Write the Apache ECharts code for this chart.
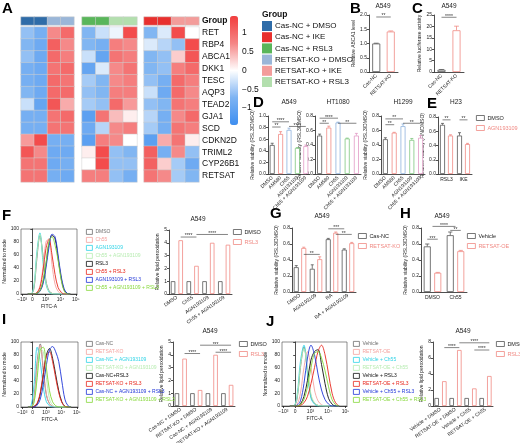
<!DOCTYPE html>
<html>
<head>
<meta charset="utf-8">
<title>RETSAT figure</title>
<script src="https://cdn.jsdelivr.net/npm/echarts@6/dist/echarts.min.js"></script>
<style>
    html, body { margin: 0; padding: 0; background: #fff; }
    #fig { width: 520px; height: 443px; }
</style>
</head>
<body>
<div id="fig"></div>
<script>

// Data
// ------------------------------

// A - heatmap (z-scores, rows = genes, 4 columns per block)
var genes = ['RET', 'RBP4', 'ABCA1', 'DKK1', 'TESC', 'AQP3', 'TEAD2', 'GJA1', 'SCD', 'CDKN2D', 'TRIML2', 'CYP26B1', 'RETSAT'];
var heatBlock1 = [
    [-0.6, -0.8, 0.7, 1.0], [-0.7, -0.9, 1.1, 0.7], [-0.6, -0.9, 1.0, 0.8], [-0.8, -0.9, 0.9, 1.0],
    [-0.8, -0.9, 1.0, 0.9], [-0.7, -0.9, 1.0, 1.0], [-0.3, -1.0, 1.2, 0.5], [-0.8, -0.8, 0.9, 1.0],
    [-0.8, -0.8, 0.9, 0.9], [0.6, 1.3, -0.8, -0.8], [1.2, 0.7, -0.9, -0.9], [0.9, 0.9, -0.9, -0.8],
    [0.9, 0.9, -0.8, -0.9]
];
var heatBlock2 = [
    [-0.7, -0.3, -0.1, 1.3], [-0.7, -0.8, 0.8, 0.7], [-0.3, -1.0, 0.9, 0.8], [-1.0, -0.2, 0.7, 0.9],
    [-0.5, -0.7, 0.7, 0.8], [-0.6, -0.7, 0.8, 0.8], [-0.5, -0.6, 1.0, 0.6], [-1.1, 0.9, 0.4, 0.1],
    [-0.9, -0.4, 0.7, 0.8], [-1.1, 0.8, 0.7, 0.0], [0.1, 1.3, -0.6, -0.7], [0.0, 1.3, -0.6, -0.6],
    [0.8, 0.8, -0.6, -0.8]
];
var heatBlock3 = [
    [-0.7, -0.2, 1.3, 0.0], [-0.2, -0.4, -0.6, 1.3], [-0.7, -0.6, 0.3, 1.2], [-0.7, -0.6, 0.8, 1.0],
    [-0.6, -0.8, 1.0, 0.8], [-0.3, -0.9, 1.0, 0.7], [-0.6, -0.7, 0.9, 0.8], [-0.4, -0.8, 0.7, 1.0],
    [-0.5, -0.8, 0.9, 0.8], [-1.1, 0.5, 0.9, 0.1], [1.1, -0.8, 0.7, -0.6], [1.1, 0.3, -0.5, -0.9],
    [0.9, 0.7, -0.5, -0.7]
];
var groupNames = ['Cas-NC + DMSO', 'Cas-NC + IKE', 'Cas-NC + RSL3', 'RETSAT-KO + DMSO', 'RETSAT-KO + IKE', 'RETSAT-KO + RSL3'];
var groupBlock1 = [0, 0, 3, 3];
var groupBlock2 = [2, 2, 5, 5];
var groupBlock3 = [1, 1, 4, 4];
var colorbarTicks = [-1, -0.5, 0, 0.5, 1];

// B, C
var bcCats = ['Cas-NC', 'RETSAT-KO'];
var bValues = [1.0, 1.42];
var bErrors = [0.01, 0.02];
var bSig = [[0, 0, 1, 0, 1.93, '**']];
var cValues = [1.0, 18.3];
var cErrors = [0.1, 1.8];
var cSig = [[0, 0, 1, 0, 24, '****']];

// D
var dCats = ['DMSO', 'AM580', 'Ch55', 'AGN193109', 'Ch55 + AGN193109'];
var dA549 = [0.50, 0.69, 0.76, 0.45, 0.48];
var dA549Err = [0.03, 0.04, 0.03, 0.005, 0.02];
var dA549Sig = [[0, 0, 2, 0, 0.90, '****'], [0, 0, 1, 0, 0.81, '**'], [2, 0, 4, 0, 0.82, '****']];
var dHT1080 = [0.53, 0.64, 0.71, 0.49, 0.53];
var dHT1080Err = [0.02, 0.02, 0.005, 0.005, 0.03];
var dHT1080Sig = [[0, 0, 2, 0, 0.77, '****'], [0, 0, 1, 0, 0.70, '**'], [2, 0, 4, 0, 0.70, '**']];
var dH1299 = [0.48, 0.57, 0.66, 0.47, 0.50];
var dH1299Err = [0.02, 0.005, 0.03, 0.02, 0.03];
var dH1299Sig = [[0, 0, 2, 0, 0.76, '**'], [0, 0, 1, 0, 0.68, '**'], [2, 0, 4, 0, 0.70, '**']];

// E
var eCats = ['RSL3', 'IKE'];
var eDMSO = [0.69, 0.54];
var eDMSOErr = [0.02, 0.04];
var eAGN = [0.54, 0.42];
var eAGNErr = [0.01, 0.01];
var eSig = [[0, -1, 0, 1, 0.76, '**'], [1, -1, 1, 1, 0.76, '**']];

// F, I, J - flow cytometry histograms (shared FITC-A grid, % of mode)
var flowU = [-0.3, -0.1, 0.1, 0.3, 0.5, 0.7, 0.9, 1.1, 1.3, 1.5, 1.7, 1.9, 2.1, 2.3, 2.5];
var flowTickValues = [-0.67, 0, 0.87, 1.87, 2.87];
var flowTickLabels = ['\u221210\u00b3', '0', '10\u00b3', '10\u2074', '10\u2075'];

var fFlowNames = ['DMSO', 'Ch55', 'AGN193109', 'Ch55 + AGN193109', 'RSL3', 'Ch55 + RSL3', 'AGN193109 + RSL3', 'Ch55 + AGN193109 + RSL3'];
var fFlow = [
    [0, 0, 8, 55, 90, 60, 20, 5, 1, 0, 0, 0, 0, 0, 0],
    [0, 0, 0, 2, 12, 40, 80, 85, 45, 15, 4, 1, 0, 0, 0],
    [0, 0, 12, 65, 94, 50, 15, 3, 0, 0, 0, 0, 0, 0, 0],
    [0, 0, 10, 60, 92, 55, 18, 4, 1, 0, 0, 0, 0, 0, 0],
    [0, 0, 0, 1, 5, 18, 45, 78, 90, 85, 55, 25, 6, 1, 0],
    [0, 0, 0, 2, 10, 35, 70, 84, 60, 30, 10, 3, 0, 0, 0],
    [0, 0, 0, 1, 4, 15, 40, 72, 92, 88, 60, 28, 8, 1, 0],
    [0, 0, 0, 1, 5, 20, 48, 80, 88, 75, 52, 22, 5, 0, 0]
];
var iFlowNames = ['Cas-NC', 'RETSAT-KO', 'Cas-NC + AGN193109', 'RETSAT-KO + AGN193109', 'Cas-NC+RSL3', 'RETSAT-KO + RSL3', 'Cas-NC + AGN193109 + RSL3', 'RETSAT-KO + AGN193109 + RSL3'];
var iFlow = [
    [0, 0, 15, 70, 97, 55, 18, 5, 1, 0, 0, 0, 0, 0, 0],
    [0, 0, 12, 65, 95, 60, 20, 5, 1, 0, 0, 0, 0, 0, 0],
    [0, 2, 35, 92, 70, 30, 8, 2, 0, 0, 0, 0, 0, 0, 0],
    [0, 0, 8, 50, 90, 85, 45, 12, 3, 0, 0, 0, 0, 0, 0],
    [0, 0, 1, 5, 20, 50, 80, 90, 75, 50, 25, 8, 1, 0, 0],
    [0, 0, 1, 6, 22, 52, 78, 85, 70, 45, 22, 7, 1, 0, 0],
    [0, 0, 0, 3, 12, 35, 65, 88, 93, 85, 70, 40, 12, 2, 0],
    [0, 0, 8, 45, 88, 92, 60, 25, 8, 2, 0, 0, 0, 0, 0]
];
var jFlowNames = ['Vehicle', 'RETSAT-OE', 'Vehicle + Ch55', 'RETSAT-OE + Ch55', 'Vehicle + RSL3', 'RETSAT-OE + RSL3', 'Vehicle + Ch55 + RSL3', 'RETSAT-OE + Ch55 + RSL3'];
var jFlow = [
    [0, 0, 10, 60, 92, 55, 15, 4, 1, 0, 0, 0, 0, 0, 0],
    [0, 0, 2, 20, 60, 85, 60, 25, 8, 2, 0, 0, 0, 0, 0],
    [0, 0, 15, 70, 95, 50, 12, 3, 0, 0, 0, 0, 0, 0, 0],
    [0, 0, 12, 62, 90, 58, 18, 5, 1, 0, 0, 0, 0, 0, 0],
    [0, 0, 0, 3, 15, 40, 72, 85, 88, 65, 35, 12, 3, 0, 0],
    [0, 0, 0, 1, 5, 15, 35, 60, 85, 95, 80, 50, 20, 5, 0],
    [0, 0, 1, 8, 35, 75, 95, 80, 50, 25, 10, 3, 0, 0, 0],
    [0, 0, 0, 2, 10, 30, 60, 82, 85, 75, 55, 30, 10, 2, 0]
];

// F, I, J - lipid peroxidation bars
var fCats = ['DMSO', 'Ch55', 'AGN193109', 'Ch55 + AGN193109'];
var fDMSO = [1, 1, 1, 1];
var fRSL3 = [4.2, 2.2, 4.0, 3.85];
var fSig = [[0, 1, 1, 1, 4.45, '****'], [1, 1, 3, 1, 4.65, '****']];
var iCats = ['Cas-NC + DMSO', 'RETSAT-KO + DMSO', 'Cas-NC + AGN193109', 'RETSAT-KO + AGN193109'];
var iDMSO = [1, 1, 1, 1];
var iRSL3 = [3.7, 1.25, 4.0, 1.65];
var iSig = [[0, 1, 1, 1, 4.1, '****'], [1, 1, 3, 1, 4.75, '***'], [2, 1, 3, 1, 4.2, '****']];
var jCats = ['Vehicle + DMSO', 'RETSAT-OE + DMSO', 'Vehicle + Ch55', 'RETSAT-OE + Ch55'];
var jDMSO = [1, 1, 1, 1];
var jRSL3 = [3.1, 7.0, 2.2, 3.75];
var jSig = [[0, 1, 1, 1, 7.3, '****'], [1, 1, 3, 1, 7.9, '****'], [2, 1, 3, 1, 7.0, '****']];

// G, H
var gCats = ['DMSO', 'AGN193109', 'RA', 'RA + AGN193109'];
var gCasNC = [0.31, 0.29, 0.66, 0.53];
var gCasNCErr = [0.02, 0.05, 0.01, 0.01];
var gKO = [0.55, 0.41, 0.74, 0.61];
var gKOErr = [0.01, 0.03, 0.01, 0.01];
var gSig = [[0, 1, 1, 1, 0.47, '**'], [2, -1, 3, -1, 0.79, '***'], [2, 1, 3, 1, 0.72, '**']];
var hCats = ['DMSO', 'Ch55'];
var hVehicle = [0.57, 0.71];
var hVehicleErr = [0.03, 0.04];
var hOE = [0.24, 0.51];
var hOEErr = [0.005, 0.01];
var hSig = [[0, -1, 0, 1, 0.66, '***'], [0, 0, 1, 0, 0.82, '****'], [1, -1, 1, 1, 0.77, '**']];


// Styles
// ------------------------------

var FONT = '"Liberation Sans", Arial, sans-serif';
var INK = '#222';
var GREY = '#555555';
var SALMON = '#f08a84';
var dColors = [GREY, SALMON, '#8fb3dd', '#7fc77f', '#e29ac6'];
var groupColors = ['#2f6ca8', '#e8302e', '#59b65a', '#9ab6d8', '#f39c9a', '#b3dfae'];
var flowColors = ['#6e6e6e', '#f4a3a0', '#2fd3e6', '#b8ecb2', '#111111', '#e8281e', '#1f35d8', '#86d83a'];


// Option builders
// ------------------------------

var grids = [], xAxes = [], yAxes = [], series = [], legends = [], graphics = [];

function addGrid(pos) {
    pos.outerBoundsMode = 'none';
    grids.push(pos);
    return grids.length - 1;
}

function addText(text, x, y, size, bold, color) {
    graphics.push({
        type: 'text', x: x, y: y, silent: true,
        style: {
            text: text, fontSize: size, fontWeight: bold ? 'bold' : 'normal', fontFamily: FONT,
            fill: color || '#000', align: bold ? 'left' : 'center', verticalAlign: 'top'
        }
    });
}

function valueAxis(gi, o) {
    return {
        gridIndex: gi, type: 'value', min: o.min || 0, max: o.max, interval: o.step,
        name: o.name, nameLocation: 'middle', nameGap: o.nameGap || 12,
        nameTextStyle: {fontSize: 5, color: INK, fontFamily: FONT},
        axisLine: {show: true, lineStyle: {color: INK, width: 0.8}},
        axisTick: {show: true, length: 2, lineStyle: {color: INK, width: 0.8}},
        axisLabel: {fontSize: 5, margin: 2, color: INK, formatter: o.fmt},
        splitLine: {show: false}
    };
}

function fixed1(v) { return v.toFixed(1); }

// Significance brackets: [cat1, slot1, cat2, slot2, y, stars]
function addSig(xi, yi, list, off) {
    series.push({
        type: 'custom', xAxisIndex: xi, yAxisIndex: yi, silent: true, z: 4,
        encode: {x: 0, y: 4},
        data: list.map(function (s) { return s.slice(0, 5); }),
        renderItem: function (params, api) {
            var a = api.coord([api.value(0), api.value(4)]);
            var b = api.coord([api.value(2), api.value(4)]);
            var x1 = a[0] + api.value(1) * off;
            var x2 = b[0] + api.value(3) * off;
            return {
                type: 'group',
                children: [
                    {type: 'line', shape: {x1: x1, y1: a[1], x2: x2, y2: a[1]}, style: {stroke: '#333', lineWidth: 0.6}},
                    {type: 'text', x: (x1 + x2) / 2, y: a[1] + 1.5,
                        style: {text: list[params.dataIndex][5], fontSize: 5, fill: '#333', fontFamily: FONT, align: 'center', verticalAlign: 'bottom'}}
                ]
            };
        }
    });
}

function barPanel(p) {
    var gi = addGrid(p.pos);
    var xi = xAxes.length, yi = yAxes.length;
    var gap = p.gap || 0;
    xAxes.push({
        gridIndex: gi, type: 'category', data: p.cats,
        axisLine: {lineStyle: {color: INK, width: 0.8}},
        axisTick: {length: 2, alignWithLabel: true, lineStyle: {color: INK, width: 0.8}},
        axisLabel: {fontSize: 5, rotate: p.rotate || 0, margin: 3, interval: 0, color: INK}
    });
    yAxes.push(valueAxis(gi, p.y));

    var two = p.groups.length === 2;
    var off = two ? p.barWidth * (1 + gap) / 2 : 0;

    p.groups.forEach(function (g, k) {
        var slot = two ? (k === 0 ? -1 : 1) : 0;
        var colorOf = function (i) { return g.colors ? g.colors[i] : g.color; };
        series.push({
            type: 'bar', name: g.name, xAxisIndex: xi, yAxisIndex: yi, silent: true,
            barWidth: p.barWidth, barGap: Math.round(gap * 100) + '%',
            data: g.values.map(function (v, i) {
                return {value: v, itemStyle: {color: '#fff', borderColor: colorOf(i), borderWidth: 0.8}};
            })
        });
        if (g.errs) {
            series.push({
                type: 'custom', xAxisIndex: xi, yAxisIndex: yi, silent: true, z: 3,
                encode: {x: 0, y: 1},
                data: g.values.map(function (v, i) { return [i, v, g.errs[i]]; }),
                renderItem: function (params, api) {
                    var base = api.coord([api.value(0), api.value(1)]);
                    var top = api.coord([api.value(0), api.value(1) + api.value(2)]);
                    var x = base[0] + slot * off;
                    var c = colorOf(params.dataIndex);
                    var cap = p.barWidth * 0.3;
                    return {
                        type: 'group',
                        children: [
                            {type: 'line', shape: {x1: x, y1: base[1], x2: x, y2: top[1]}, style: {stroke: c, lineWidth: 0.8}},
                            {type: 'line', shape: {x1: x - cap, y1: top[1], x2: x + cap, y2: top[1]}, style: {stroke: c, lineWidth: 0.8}}
                        ]
                    };
                }
            });
        }
    });
    if (p.sig) {
        addSig(xi, yi, p.sig, off);
    }
}

function barLegend(left, top, items) {
    legends.push({
        left: left, top: top, orient: 'vertical', padding: 0, icon: 'rect',
        itemWidth: 8, itemHeight: 5, itemGap: 4, selectedMode: false,
        textStyle: {fontSize: 5.5, fontFamily: FONT, padding: [0, 0, 0, -2]},
        data: items.map(function (it) {
            return {name: it[0], itemStyle: {color: '#fff', borderColor: it[1], borderWidth: 0.8}, textStyle: {color: it[2]}};
        })
    });
}

function flowPanel(pos, names, curves, legendPos) {
    var gi = addGrid(Object.assign({show: true, borderColor: '#444', borderWidth: 0.6}, pos));
    var xi = xAxes.length, yi = yAxes.length;
    xAxes.push({
        gridIndex: gi, type: 'value', min: -0.75, max: 2.95,
        name: 'FITC-A', nameLocation: 'middle', nameGap: 10,
        nameTextStyle: {fontSize: 5, color: INK},
        axisLine: {lineStyle: {color: INK, width: 0.8}},
        axisTick: {show: true, length: 2, customValues: flowTickValues, lineStyle: {color: INK, width: 0.8}},
        axisLabel: {
            fontSize: 5, margin: 3, color: INK, customValues: flowTickValues,
            formatter: function (v) {
                var k = flowTickValues.indexOf(v);
                return k >= 0 ? flowTickLabels[k] : '';
            }
        },
        splitLine: {show: false}
    });
    yAxes.push(valueAxis(gi, {max: 100, step: 20, name: 'Normalized to mode', nameGap: 11}));
    curves.forEach(function (vals, k) {
        series.push({
            type: 'line', name: names[k], xAxisIndex: xi, yAxisIndex: yi, silent: true,
            smooth: 0.35, symbol: 'none', z: 2 + k * 0.1,
            lineStyle: {color: flowColors[k], width: 0.9},
            itemStyle: {color: flowColors[k]},
            data: flowU.map(function (u, i) { return [u, vals[i]]; })
        });
    });
    legends.push({
        left: legendPos[0], top: legendPos[1], orient: 'vertical', padding: 0, icon: 'rect',
        itemWidth: 6, itemHeight: 5, itemGap: 2.2, selectedMode: false,
        textStyle: {fontSize: 5, fontFamily: FONT, padding: [0, 0, 0, -2]},
        data: names.map(function (n, k) {
            return {name: n, itemStyle: {color: '#fff', borderColor: flowColors[k], borderWidth: 0.8}, textStyle: {color: flowColors[k]}};
        })
    });
}


// A - heatmap
// ------------------------------

var heatSeries = [], groupSeries = [];

function heatBlock(block, groups, left, width, last) {
    var gi = addGrid({left: left, top: 17, width: width, height: 8});
    xAxes.push({gridIndex: gi, type: 'category', data: ['1', '2', '3', '4'], show: false});
    yAxes.push({
        gridIndex: gi, type: 'category', data: ['Group'], position: 'right',
        axisLine: {show: false}, axisTick: {show: false},
        axisLabel: {show: last, fontSize: 8.5, fontWeight: 'bold', color: '#111', margin: 3}
    });
    groupSeries.push(series.length);
    series.push({
        type: 'heatmap', xAxisIndex: xAxes.length - 1, yAxisIndex: yAxes.length - 1, silent: true,
        itemStyle: {borderColor: '#cfcfcf', borderWidth: 0.5},
        data: groups.map(function (g, c) { return [c, 0, g]; })
    });

    gi = addGrid({left: left, top: 27, width: width, height: 155});
    xAxes.push({gridIndex: gi, type: 'category', data: ['1', '2', '3', '4'], show: false});
    yAxes.push({
        gridIndex: gi, type: 'category', data: genes, inverse: true, position: 'right',
        axisLine: {show: false}, axisTick: {show: false},
        axisLabel: {show: last, fontSize: 8.5, color: '#111', margin: 3}
    });
    var data = [];
    block.forEach(function (row, r) {
        row.forEach(function (v, c) { data.push([c, r, v]); });
    });
    heatSeries.push(series.length);
    series.push({
        type: 'heatmap', xAxisIndex: xAxes.length - 1, yAxisIndex: yAxes.length - 1, silent: true,
        itemStyle: {borderColor: '#cfcfcf', borderWidth: 0.5},
        data: data
    });
}

heatBlock(heatBlock1, groupBlock1, 21, 53, false);
heatBlock(heatBlock2, groupBlock2, 82, 55, false);
heatBlock(heatBlock3, groupBlock3, 144, 55, true);

// colour bar tick labels
(function () {
    var gi = addGrid({left: 230, top: 16, width: 8, height: 109});
    xAxes.push({gridIndex: gi, type: 'value', min: 0, max: 1, show: false});
    yAxes.push({
        gridIndex: gi, type: 'value', min: -1.45, max: 1.45, position: 'right',
        axisLine: {show: false}, axisTick: {show: false}, splitLine: {show: false},
        axisLabel: {
            fontSize: 8.5, color: '#111', margin: 4, customValues: colorbarTicks,
            formatter: function (v) { return String(v).replace('-', '\u2212'); }
        }
    });
})();


// B - E
// ------------------------------

barPanel({
    pos: {left: 369, top: 15, width: 29, height: 57}, cats: bcCats, rotate: 45, barWidth: 8,
    y: {max: 2, step: 0.5, fmt: fixed1, name: 'Relative ABCA1 level', nameGap: 11},
    groups: [{name: 'B', values: bValues, errs: bErrors, colors: [GREY, SALMON]}], sig: bSig
});
barPanel({
    pos: {left: 434, top: 15, width: 30, height: 57}, cats: bcCats, rotate: 45, barWidth: 8,
    y: {max: 25, step: 5, name: 'Relative luciferase activity', nameGap: 9},
    groups: [{name: 'C', values: cValues, errs: cErrors, colors: [GREY, SALMON]}], sig: cSig
});
barPanel({
    pos: {left: 268, top: 116, width: 42, height: 58}, cats: dCats, rotate: 45, barWidth: 5,
    y: {max: 1, step: 0.2, fmt: fixed1, name: 'Relative viability (RSL3/DMSO)', nameGap: 11},
    groups: [{name: 'D1', values: dA549, errs: dA549Err, colors: dColors}], sig: dA549Sig
});
barPanel({
    pos: {left: 315, top: 116, width: 46, height: 58}, cats: dCats, rotate: 45, barWidth: 5,
    y: {max: 0.8, step: 0.2, fmt: fixed1, name: 'Relative viability (RSL3/DMSO)', nameGap: 11},
    groups: [{name: 'D2', values: dHT1080, errs: dHT1080Err, colors: dColors}], sig: dHT1080Sig
});
barPanel({
    pos: {left: 381, top: 116, width: 44, height: 58}, cats: dCats, rotate: 45, barWidth: 5,
    y: {max: 0.8, step: 0.2, fmt: fixed1, name: 'Relative viability (RSL3/DMSO)', nameGap: 11},
    groups: [{name: 'D3', values: dH1299, errs: dH1299Err, colors: dColors}], sig: dH1299Sig
});
barPanel({
    pos: {left: 438, top: 117, width: 34, height: 57}, cats: eCats, barWidth: 5, gap: 0.6,
    y: {max: 0.8, step: 0.2, fmt: fixed1, name: 'Relative viability (FIN/DMSO)', nameGap: 11},
    groups: [
        {name: 'DMSO', values: eDMSO, errs: eDMSOErr, color: GREY},
        {name: 'AGN193109', values: eAGN, errs: eAGNErr, color: SALMON}
    ],
    sig: eSig
});
barLegend(476, 115, [['DMSO', GREY, INK], ['AGN193109', SALMON, SALMON]]);


// F - J
// ------------------------------

flowPanel({left: 21, top: 229, width: 56, height: 65}, fFlowNames, fFlow, [86, 229]);
barPanel({
    pos: {left: 169, top: 230, width: 63, height: 64}, cats: fCats, rotate: 35, barWidth: 4.5, gap: 0.7,
    y: {max: 5, step: 1, name: 'Relative lipid peroxidation', nameGap: 8},
    groups: [
        {name: 'DMSO', values: fDMSO, color: GREY},
        {name: 'RSL3', values: fRSL3, color: SALMON}
    ],
    sig: fSig
});
barLegend(233, 229, [['DMSO', GREY, INK], ['RSL3', SALMON, SALMON]]);

barPanel({
    pos: {left: 292, top: 228, width: 64, height: 64}, cats: gCats, rotate: 35, barWidth: 5, gap: 0.5,
    y: {max: 0.8, step: 0.2, fmt: fixed1, name: 'Relative viability (RSL3/DMSO)', nameGap: 11},
    groups: [
        {name: 'Cas-NC', values: gCasNC, errs: gCasNCErr, color: GREY},
        {name: 'RETSAT-KO', values: gKO, errs: gKOErr, color: SALMON}
    ],
    sig: gSig
});
barLegend(358, 233, [['Cas-NC', GREY, INK], ['RETSAT-KO', SALMON, SALMON]]);

barPanel({
    pos: {left: 421, top: 228, width: 46, height: 64}, cats: hCats, barWidth: 7, gap: 0.5,
    y: {max: 0.8, step: 0.2, fmt: fixed1, name: 'Relative viability (RSL3/DMSO)', nameGap: 11},
    groups: [
        {name: 'Vehicle', values: hVehicle, errs: hVehicleErr, color: GREY},
        {name: 'RETSAT-OE', values: hOE, errs: hOEErr, color: SALMON}
    ],
    sig: hSig
});
barLegend(467, 233, [['Vehicle', GREY, INK], ['RETSAT-OE', SALMON, SALMON]]);

flowPanel({left: 21, top: 342, width: 57, height: 65}, iFlowNames, iFlow, [86, 341]);
barPanel({
    pos: {left: 173, top: 342, width: 62, height: 64}, cats: iCats, rotate: 35, barWidth: 4.5, gap: 0.7,
    y: {max: 5, step: 1, name: 'Relative lipid peroxidation', nameGap: 8},
    groups: [
        {name: 'DMSO', values: iDMSO, color: GREY},
        {name: 'RSL3', values: iRSL3, color: SALMON}
    ],
    sig: iSig
});
barLegend(239, 341, [['DMSO', GREY, INK], ['RSL3', SALMON, SALMON]]);

flowPanel({left: 282, top: 342, width: 65, height: 64}, jFlowNames, jFlow, [353, 341]);
barPanel({
    pos: {left: 433, top: 342, width: 60, height: 64}, cats: jCats, rotate: 35, barWidth: 4.5, gap: 0.7,
    y: {max: 8, step: 2, name: 'Relative lipid peroxidation', nameGap: 8},
    groups: [
        {name: 'DMSO', values: jDMSO, color: GREY},
        {name: 'RSL3', values: jRSL3, color: SALMON}
    ],
    sig: jSig
});
barLegend(496, 341, [['DMSO', GREY, INK], ['RSL3', SALMON, SALMON]]);


// Panel letters and titles
// ------------------------------

[['A', 2, 1], ['B', 350, 1], ['C', 412, 1], ['D', 253, 95], ['E', 427, 96], ['F', 2, 208],
 ['G', 270, 206], ['H', 400, 206], ['I', 2, 312], ['J', 266, 314]].forEach(function (l) {
    addText(l[0], l[1], l[2], 15, true);
});
addText('Group', 262, 10, 8.5, true, '#111');

[['A549', 383, 3], ['A549', 449, 3], ['A549', 289, 99], ['HT1080', 338, 99], ['H1299', 403, 99],
 ['H23', 456, 99], ['A549', 198, 216], ['A549', 322, 213], ['A549', 442, 213], ['A549', 210, 328],
 ['A549', 463, 328]].forEach(function (t) {
    addText(t[0], t[1], t[2], 6.5, false, INK);
});


// Chart
// ------------------------------

var fig = echarts.init(document.getElementById('fig'), null, {renderer: 'canvas'});
fig.setOption({
    animation: false,
    textStyle: {fontFamily: FONT},
    grid: grids,
    xAxis: xAxes,
    yAxis: yAxes,
    legend: legends,
    visualMap: [
        {
            type: 'continuous', seriesIndex: heatSeries, min: -1.45, max: 1.45,
            left: 230, top: 16, itemWidth: 8, itemHeight: 109, padding: 0,
            calculable: false, hoverLink: false,
            inRange: {color: ['#3d8ef0', '#7db3f2', '#ffffff', '#f58585', '#f23d3d']}
        },
        {
            type: 'piecewise', seriesIndex: groupSeries, inverse: true, align: 'left',
            left: 262, top: 21, padding: 0, itemWidth: 10, itemHeight: 10, itemGap: 1.2, itemSymbol: 'rect',
            selectedMode: false, textGap: 3,
            textStyle: {fontSize: 8, color: '#111', fontFamily: FONT},
            pieces: groupNames.map(function (n, k) { return {value: k, label: n, color: groupColors[k]}; })
        }
    ],
    graphic: graphics,
    series: series
});

window.addEventListener('resize', function () {
    fig.resize();
});

</script>
</body>
</html>
